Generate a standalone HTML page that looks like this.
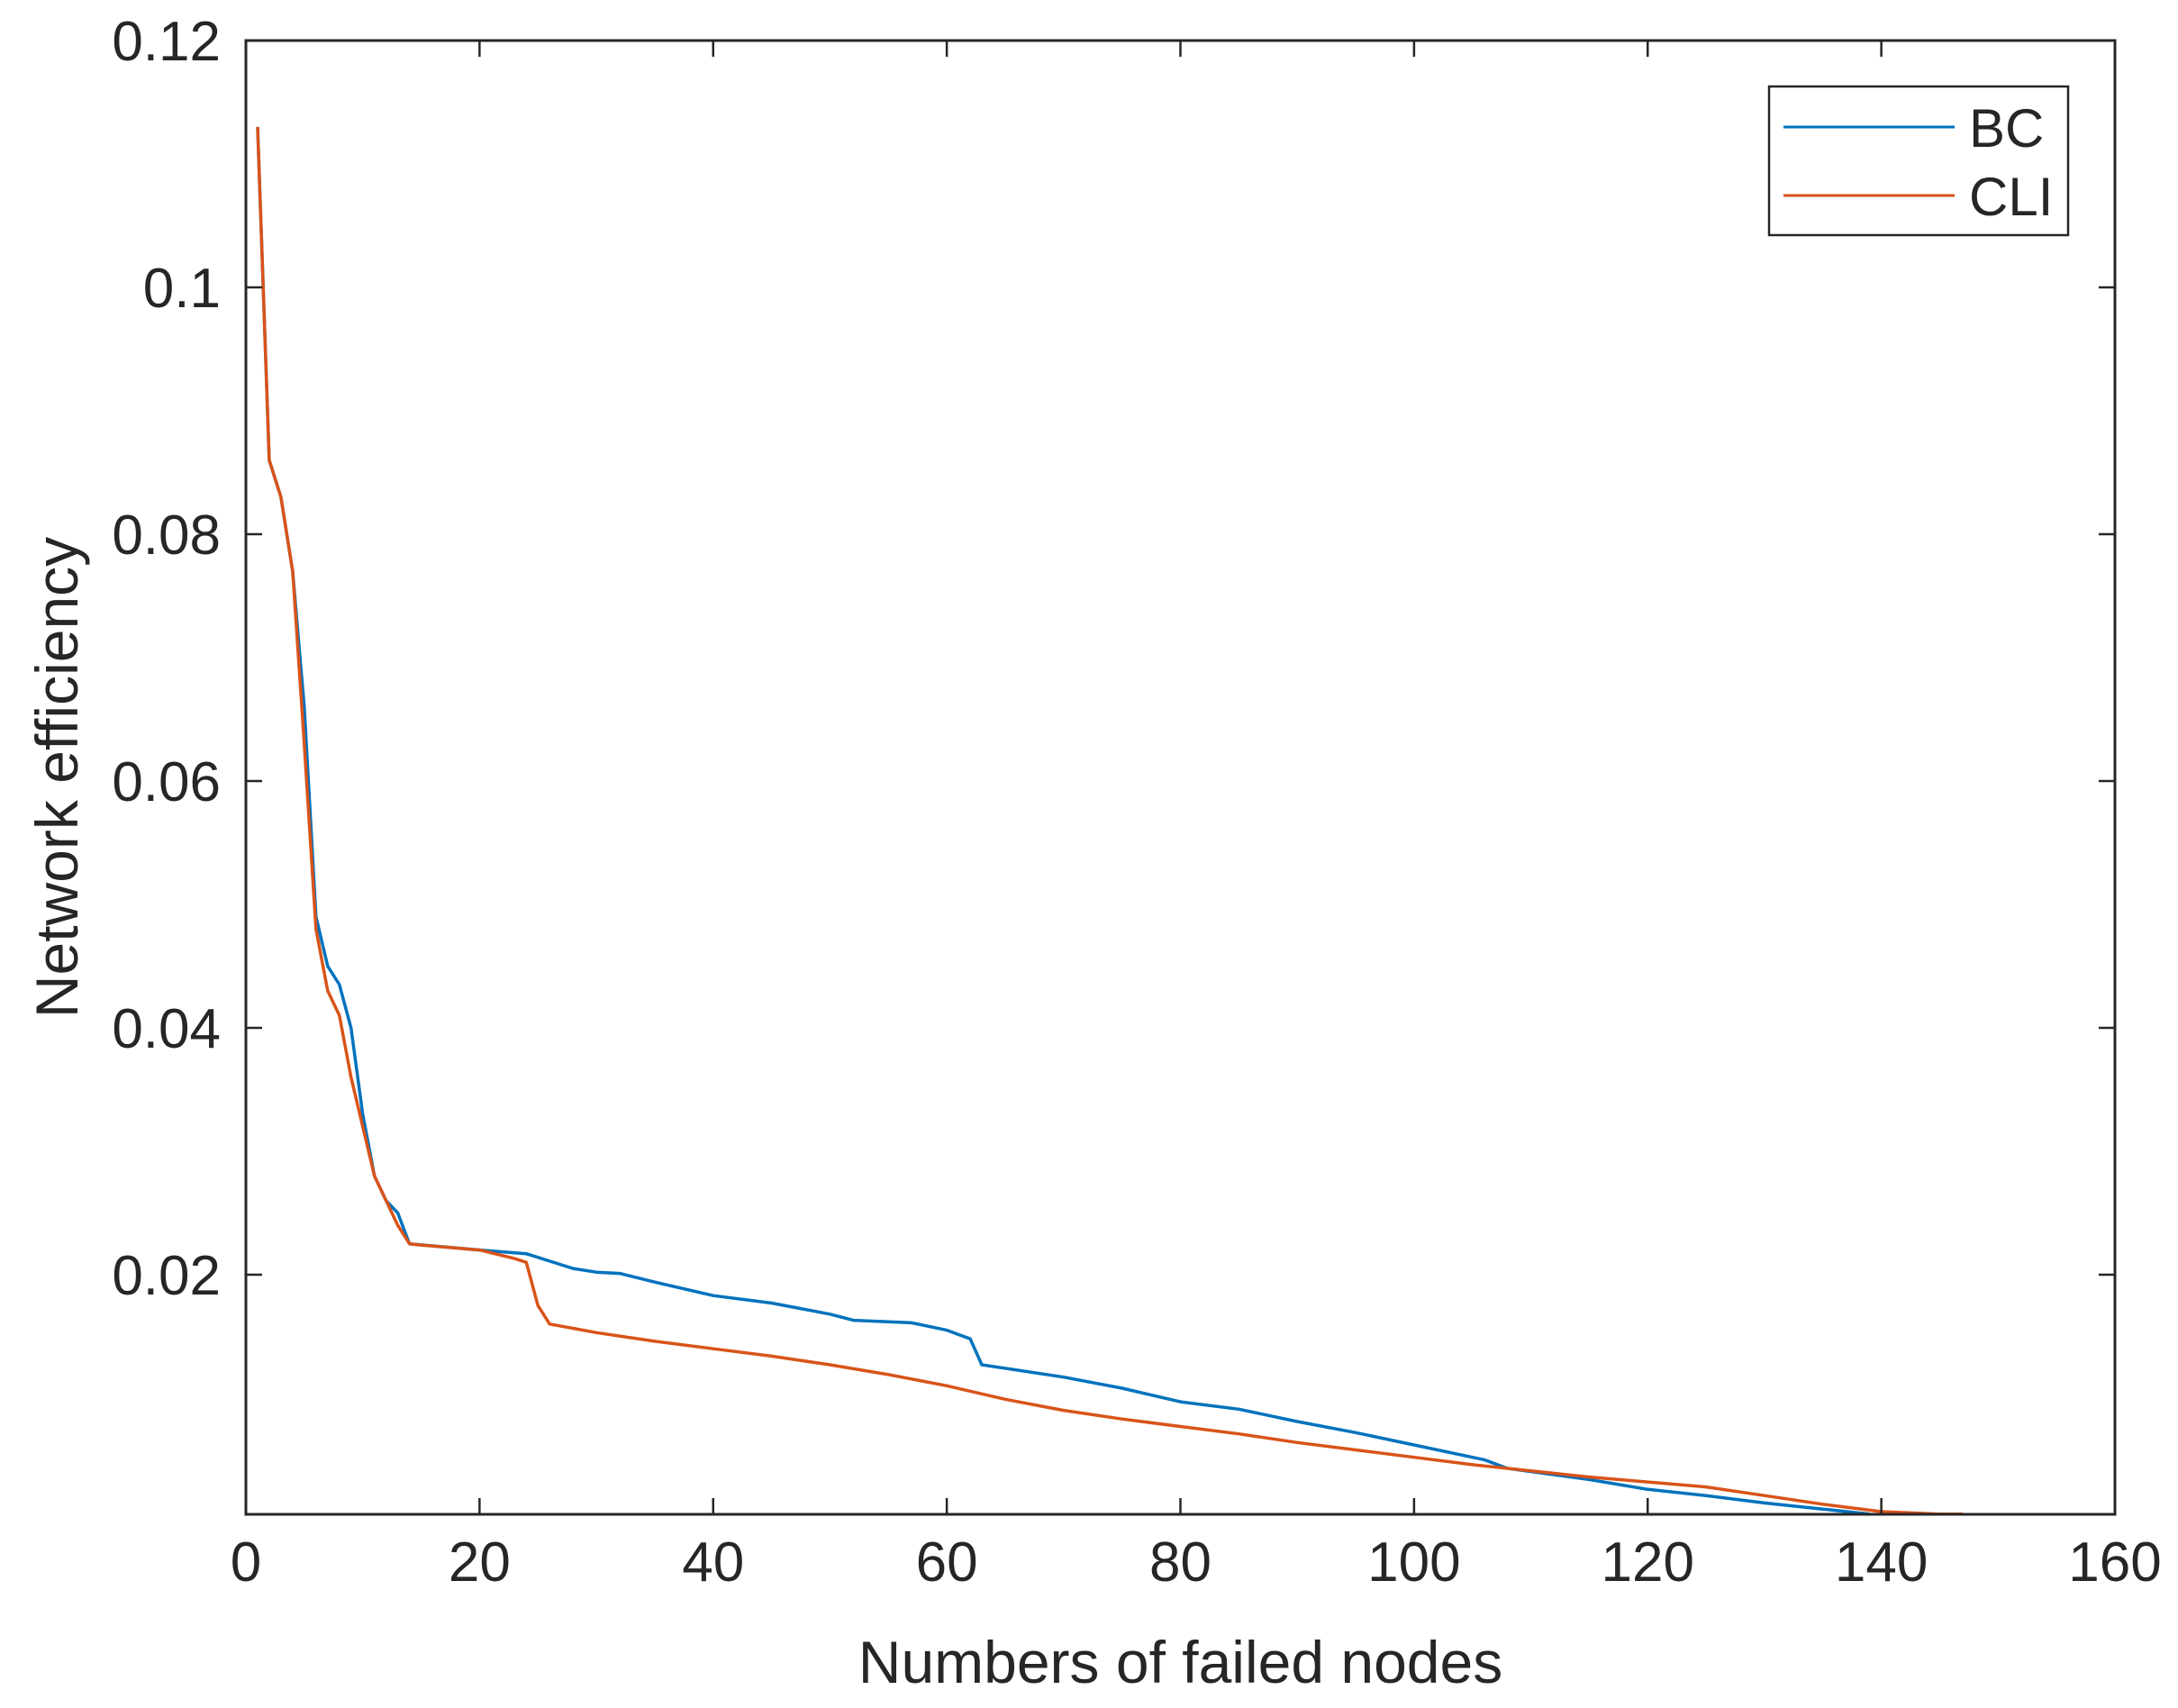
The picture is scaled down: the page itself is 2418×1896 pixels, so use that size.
<!DOCTYPE html>
<html><head><meta charset="utf-8"><style>
html,body{margin:0;padding:0;background:#fff;}
svg{display:block;font-family:"Liberation Sans",Arial,sans-serif;}
</style></head><body>
<svg id="chart" width="2418" height="1896" viewBox="0 0 2418 1896" xmlns="http://www.w3.org/2000/svg"></svg>
<script>
const bcX = [1,2,3,4,5,6,7,8,9,10,11,12,13,14,20,24,28,30,32,35,40,45,50,52,57,60,62,63,70,75,80,85,90,95,100,106,108,115,120,125,130,135,139];
const bcY = [0.113,0.086,0.083,0.077,0.066,0.049,0.045,0.0435,0.040,0.033,0.028,0.026,0.025,0.0225,0.022,0.0217,0.0205,0.0202,0.0201,0.0194,0.0183,0.0177,0.0168,0.0163,0.0161,0.0155,0.0148,0.0127,0.0117,0.0108,0.0097,0.0091,0.0081,0.0072,0.0062,0.0050,0.0043,0.0034,0.0026,0.0021,0.0015,0.0010,0.0006];
const cliX = [1,2,3,4,5,6,7,8,9,10,11,12,13,14,15,20,23,24,25,26,30,35,40,45,50,55,60,65,70,75,80,85,90,95,100,105,110,115,120,125,130,135,140,145,147];
const cliY = [0.113,0.086,0.083,0.077,0.063,0.048,0.043,0.041,0.036,0.032,0.028,0.026,0.024,0.0225,0.0224,0.022,0.0213,0.021,0.0175,0.016,0.0153,0.0146,0.0140,0.0134,0.0127,0.0119,0.011,0.0099,0.0090,0.0083,0.0077,0.0071,0.0064,0.0058,0.0052,0.0046,0.0041,0.0036,0.0032,0.0028,0.0021,0.0014,0.0008,0.0006,0.0006];
const xTicks = [0,20,40,60,80,100,120,140,160];
const yTicks = [0.02,0.04,0.06,0.08,0.1,0.12];
const yTickLabels = ["0.02","0.04","0.06","0.08","0.1","0.12"];

const L=273,R=2348,T=45,B=1681;
const xMin=0,xMax=160,yMin=0.00058,yMax=0.12;
function sx(v){return L+(v-xMin)/(xMax-xMin)*(R-L);}
function sy(v){return B-(v-yMin)/(yMax-yMin)*(B-T);}
const NS="http://www.w3.org/2000/svg";
const svg=document.getElementById('chart');
function mk(tag,attrs,parent){const e=document.createElementNS(NS,tag);for(const k in attrs)e.setAttribute(k,attrs[k]);(parent||svg).appendChild(e);return e;}

function series(xs,ys,color,name){
  let d='';
  for(let i=0;i<xs.length;i++){d+=(i?'L':'M')+sx(xs[i]).toFixed(1)+','+sy(ys[i]).toFixed(1);}
  const p=mk('path',{d:d,fill:'none',stroke:color,'stroke-width':3.5,'stroke-linejoin':'round'});
  
  
}
series(bcX,bcY,'#0072BD','bc-line');
series(cliX,cliY,'#D95319','cli-line');

const box=mk('rect',{x:L,y:T,width:R-L,height:B-T,fill:'none',stroke:'#262626','stroke-width':3});



xTicks.forEach(function(v){
  const x=sx(v);
  mk('line',{x1:x,y1:B,x2:x,y2:B-18,stroke:'#262626','stroke-width':2.5});
  mk('line',{x1:x,y1:T,x2:x,y2:T+18,stroke:'#262626','stroke-width':2.5});
  const t=mk('text',{x:x,y:B+74,'text-anchor':'middle','font-size':62,fill:'#262626'});
  t.textContent=String(v);
  
  
});
yTicks.forEach(function(v,i){
  const y=sy(v);
  mk('line',{x1:L,y1:y,x2:L+18,y2:y,stroke:'#262626','stroke-width':2.5});
  mk('line',{x1:R,y1:y,x2:R-18,y2:y,stroke:'#262626','stroke-width':2.5});
  const t=mk('text',{x:L-28,y:y+22,'text-anchor':'end','font-size':62,fill:'#262626'});
  t.textContent=yTickLabels[i];
  
  
});

const xt=mk('text',{x:(L+R)/2,y:1868,'text-anchor':'middle','font-size':66,fill:'#262626'});
xt.textContent='Numbers of failed nodes';


const yt=mk('text',{x:0,y:0,'text-anchor':'middle','font-size':66,fill:'#262626',transform:'translate(86,863) rotate(-90)'});
yt.textContent='Network efficiency';



const lg=mk('g',{});


mk('rect',{x:1964,y:96,width:332,height:165,fill:'#fff',stroke:'#262626','stroke-width':2.5},lg);
mk('line',{x1:1980,y1:141,x2:2170,y2:141,stroke:'#0072BD','stroke-width':3},lg);
mk('line',{x1:1980,y1:217,x2:2170,y2:217,stroke:'#D95319','stroke-width':3},lg);
const l1=mk('text',{x:2186,y:163,'font-size':60,fill:'#262626'},lg);
l1.textContent='BC';


const l2=mk('text',{x:2186,y:239,'font-size':60,fill:'#262626'},lg);
l2.textContent='CLI';


</script>
</body></html>
